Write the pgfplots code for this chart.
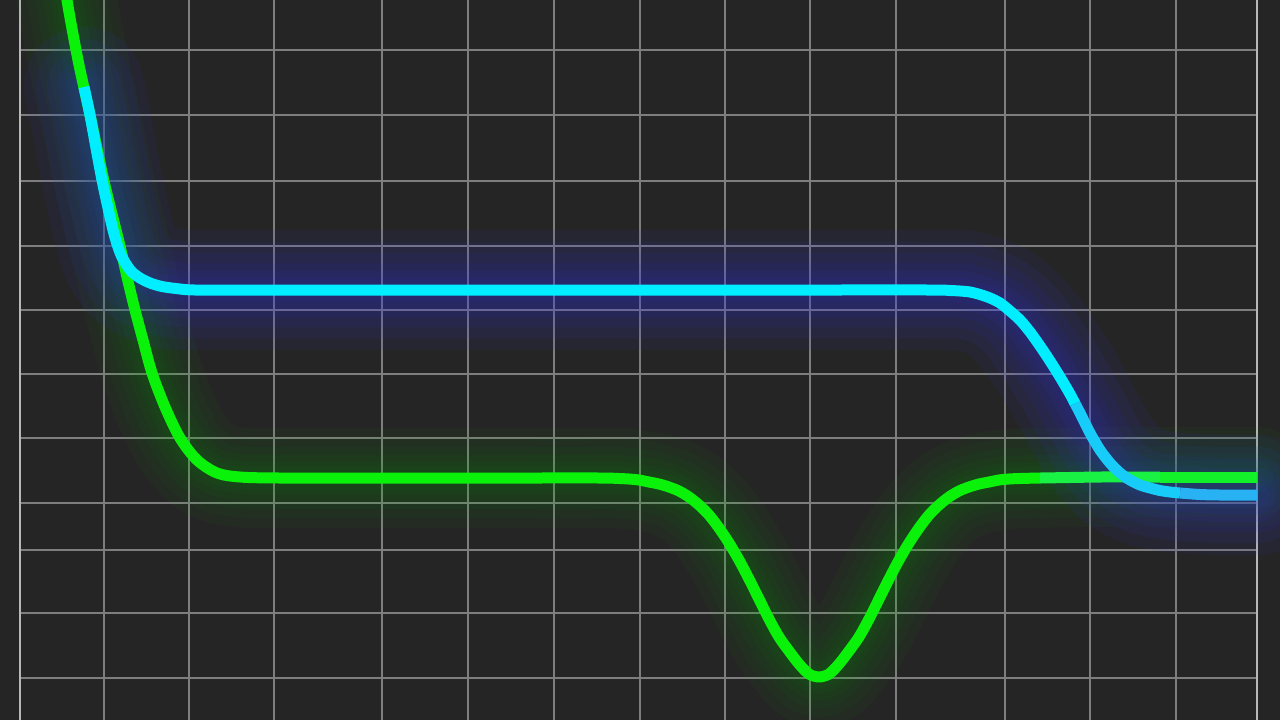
\documentclass[border=0pt]{standalone}
\usepackage{pgfplots}
\pgfplotsset{compat=1.18}
\usepackage{pgfplotstable}

\definecolor{bg}{HTML}{252525}
\definecolor{gridc}{HTML}{7E7E7E}
\definecolor{borderc}{HTML}{B8B8B8}
\definecolor{neongreen}{HTML}{0AF20A}
\definecolor{greenmix}{HTML}{2CF08C}
\definecolor{greenglow}{HTML}{00B400}
\definecolor{neoncyan}{HTML}{00EEFF}
\definecolor{cyanmid}{HTML}{18CCFA}
\definecolor{cyanblue}{HTML}{28B2F4}
\definecolor{blueglow}{HTML}{3434E8}

% pixel coordinates, y measured from the top
\pgfplotstableread{
x y
66 -20
67 0
78 60
90 115
104 181
120 246
127 277
135 310
143 340
152 373
165 407
180 438
197 460
217 473
240 477
280 478
400 478
520 478
600 478
619 478.5
629 479
639 480
649 482
659 484
669 487
679 491
689 497
699 505
709 515
719 528
729 543
739 560
749 579
759 599
769 619
779 637
789 651
799 664
809 674
819 677
829 674
839 664
849 651
859 637
869 619
879 599
889 579
899 560
909 543
919 528
929 515
939 505
949 497
959 491
969 487
979 484
989 482
999 480
1009 479
1019 478.5
1040 478
}\greenA
\pgfplotstableread{
x y
1040 478
1070 477.5
1100 477
1130 477
1160 477
}\greenB
\pgfplotstableread{
x y
1160 477
1210 477
1257 477
}\greenC
\pgfplotstableread{
x y
66 -20
67 0
78 60
90 115
104 181
120 246
127 277
135 310
143 340
152 373
165 407
180 438
197 460
217 473
240 477
280 478
600 478
619 478.5
639 480
659 484
679 491
699 505
719 528
739 560
759 599
779 637
799 664
809 674
819 677
829 674
839 664
859 637
879 599
899 560
919 528
939 505
959 491
979 484
999 480
1019 478.5
1100 477
1257 477
}\greenAll

\pgfplotstableread{
x y
84 87
90 115
96 148
102 180
108 208
113 230
117 244
121 255
126 264
132 272
140 278
150 283
162 286.5
176 288.5
195 290
260 290
500 290
800 290
930 290
950 290.5
960 291
970 292
980 294.5
990 298
1000 303
1010 311
1020 320
1030 332
1040 346
1050 361
1060 377
1070 394
1075 403.5
}\cyanA
\pgfplotstableread{
x y
1075 403.5
1080 413
1090 433
1100 450
1110 463
1120 473
1130 480
1140 485
1150 488
1160 490.5
1170 492
1180 493
}\cyanB
\pgfplotstableread{
x y
1180 493
1200 494.5
1220 495
1257 495
}\cyanC
\pgfplotstableread{
x y
84 87
90 115
96 148
102 180
108 208
113 230
117 244
121 255
126 264
132 272
140 278
150 283
162 286.5
176 288.5
195 290
500 290
930 290
960 291
980 294.5
1000 303
1020 320
1040 346
1060 377
1080 413
1100 450
1120 473
1140 485
1160 490.5
1180 493
1220 495
1257 495
}\cyanAll

\begin{document}
\begin{tikzpicture}
\useasboundingbox (-20bp,0) rectangle (1260bp,720bp);
\clip (-20bp,0) rectangle (1260bp,720bp);
\fill[bg] (-20bp,0) rectangle (1260bp,720bp);
\begin{axis}[
    at={(0,0)}, anchor=south west,
    width=1237bp, height=720bp,
    scale only axis,
    xmin=20, xmax=1257,
    ymin=0, ymax=720,
    y dir=reverse,
    clip=false,
    axis line style={draw=none},
    tick style={draw=none},
    xtick={104,189,274,382,468,554,640,725,810,896,1005,1090,1176},
    ytick={50,115,181,246,310,374,438,503,550,613,678},
    xticklabels={}, yticklabels={},
    grid=major,
    major grid style={draw=gridc, line width=1.8bp},
    extra x ticks={20,1257},
    extra x tick labels={},
    extra x tick style={grid=major, major grid style={draw=borderc, line width=2.6bp}},
    every axis plot/.append style={smooth, tension=0.5, no markers, line join=round},
    gglow/.style={greenglow, opacity=0.045, line cap=round},
    bglow/.style={blueglow, opacity=0.075, line cap=round},
]
% glow of the green curve
\addplot[gglow, line width=100bp] table {\greenAll};
\addplot[gglow, line width=80bp] table {\greenAll};
\addplot[gglow, line width=62bp] table {\greenAll};
\addplot[gglow, line width=46bp] table {\greenAll};
\addplot[gglow, line width=32bp] table {\greenAll};
\addplot[gglow, line width=22bp] table {\greenAll};
% glow of the cyan curve
\addplot[bglow, line width=120bp] table {\cyanAll};
\addplot[bglow, line width=96bp] table {\cyanAll};
\addplot[bglow, line width=74bp] table {\cyanAll};
\addplot[bglow, line width=54bp] table {\cyanAll};
\addplot[bglow, line width=38bp] table {\cyanAll};
\addplot[bglow, line width=24bp] table {\cyanAll};
% green curve
\addplot[neongreen, line width=11bp] table {\greenA};
\addplot[neongreen!55!greenmix, line width=11bp] table {\greenB};
\addplot[neongreen!75!greenmix, line width=11bp] table {\greenC};
% cyan curve
\addplot[neoncyan, line width=11bp] table {\cyanA};
\addplot[cyanmid, line width=11bp] table {\cyanB};
\addplot[cyanblue, line width=11bp] table {\cyanC};
\end{axis}
\end{tikzpicture}
\end{document}
